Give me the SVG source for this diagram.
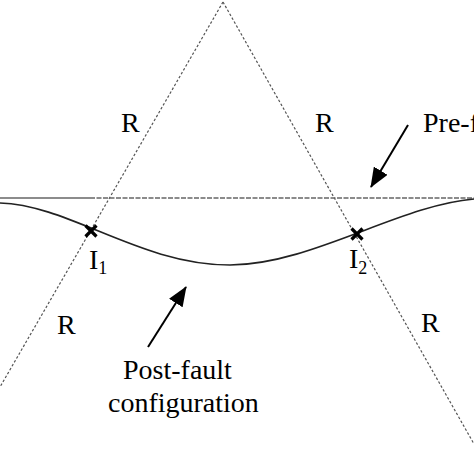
<svg xmlns="http://www.w3.org/2000/svg" width="474" height="474" viewBox="0 0 474 474">
<style>
text{font-family:'Liberation Serif','DejaVu Serif',serif;fill:#000;font-size:28px;}
.sub{font-size:18px;}
.dot{fill:none;stroke:#555;stroke-width:1.2;stroke-dasharray:2.5,2;}
.pre{fill:none;stroke:#666;stroke-width:1.3;stroke-dasharray:5,1.5;}
.curve{fill:none;stroke:#222;stroke-width:1.6;}
.arr{fill:none;stroke:#000;stroke-width:2;}
.mk{stroke:#000;stroke-width:3.2;}
</style>
<defs>
<marker id="ahb" viewBox="0 0 20 16" refX="19" refY="8" markerWidth="20" markerHeight="16" orient="auto" markerUnits="userSpaceOnUse">
<path d="M0,0 L20,8 L0,16 z" fill="#000"/>
</marker>
</defs>
<rect width="474" height="474" fill="#fff"/>
<g id="connectors">
<line id="left-boundary" class="dot" x1="223" y1="2" x2="0" y2="387"/>
<line id="right-boundary" class="dot" x1="223" y1="2" x2="474" y2="444"/>
<line x1="0" y1="198" x2="90" y2="198" stroke="#666" stroke-width="1.3"/>
<line id="pre-fault-line" class="pre" x1="90" y1="198" x2="474" y2="198"/>
<path id="post-fault-curve" class="curve" d="M0,203 C70,205 140,265 230,265 C310,265 400,205 474,199"/>
<line class="arr" x1="408" y1="125" x2="371" y2="187" marker-end="url(#ahb)"/>
<line class="arr" x1="148" y1="347" x2="186" y2="287" marker-end="url(#ahb)"/>
</g>
<g id="I1">
<line class="mk" x1="85.5" y1="225.5" x2="96.5" y2="236.5"/>
<line class="mk" x1="96.5" y1="225.5" x2="85.5" y2="236.5"/>
<text x="89" y="269" font-family="Liberation Serif, serif" font-size="26">I<tspan class="sub" dy="5">1</tspan></text>
</g>
<g id="I2">
<line class="mk" x1="351.5" y1="228.5" x2="362.5" y2="239.5"/>
<line class="mk" x1="362.5" y1="228.5" x2="351.5" y2="239.5"/>
<text x="349" y="268" font-family="Liberation Serif, serif" font-size="26">I<tspan class="sub" dy="6">2</tspan></text>
</g>
<g id="R-labels" font-family="Liberation Serif, serif">
<text x="121" y="132">R</text>
<text x="315" y="132">R</text>
<text x="57" y="334">R</text>
<text x="421" y="332">R</text>
</g>
<g id="pre-fault-label">
<text x="423" y="132" font-family="Liberation Serif, serif">Pre-fault</text>
</g>
<g id="post-fault-label" font-family="Liberation Serif, serif">
<text x="123" y="379">Post-fault</text>
<text x="108" y="412">configuration</text>
</g>
</svg>
